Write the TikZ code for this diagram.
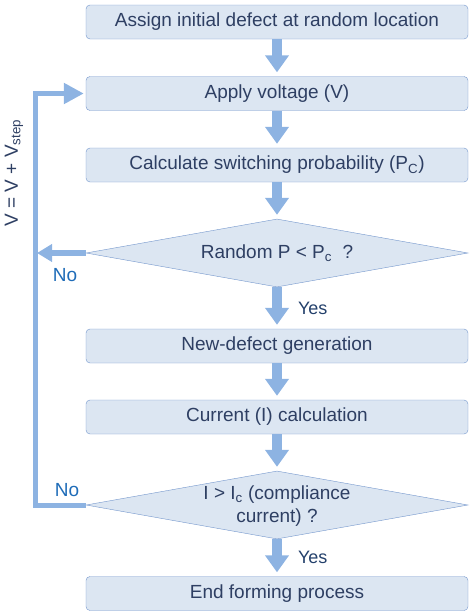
\documentclass[tikz,border=0pt]{standalone}
\usepackage{fontspec}
\setmainfont{Liberation Sans}
\usetikzlibrary{arrows.meta}
\usetikzlibrary{shapes.geometric}
\definecolor{flowblue}{HTML}{8DB3E2}
\definecolor{boxfill}{HTML}{DCE6F2}
\definecolor{boxline}{HTML}{7396CC}
\definecolor{boxtext}{HTML}{2E3F63}
\definecolor{nocol}{HTML}{1F6CB8}
\definecolor{yescol}{HTML}{23406B}
\newcommand\boxfont[0]{\fontsize{19}{23}\selectfont}

\begin{document}
\begin{tikzpicture}[x=1pt,y=-1pt,
  procbox/.style={draw=boxline,fill=boxfill,rounded corners=4pt,minimum width=382pt,minimum height=34pt,inner sep=0pt,text=boxtext,font=\boxfont},
  decision/.style={diamond,draw=boxline,fill=boxfill,minimum width=382pt,minimum height=68pt,inner sep=0pt},
  dtext/.style={text=boxtext,font=\boxfont,align=center,inner sep=0pt},
  flow/.style={flowblue,line width=10pt,shorten >=4pt,-{Triangle[width=23pt,length=17pt]}},
  yeslabel/.style={text=yescol,font=\fontsize{18}{22}\selectfont,anchor=west,inner sep=0pt,xshift=16pt}
]
\useasboundingbox (0,0) rectangle (474,616);

\node[procbox] (assign) at (277,22) {Assign initial defect at random location};
\node[procbox] (apply) at (277,93.5) {Apply voltage (V)};
\node[procbox] (calc) at (277,165) {Calculate switching probability (P\textsubscript{C})};
\node[decision] (rand) at (277,253) {};
\node[dtext] at (rand) {Random P < P\textsubscript{c}\ \ ?};
\node[procbox] (newdef) at (277,346) {New-defect generation};
\node[procbox] (curr) at (277,417) {Current (I) calculation};
\node[decision] (comp) at (277,505) {};
\node[dtext] at (277,506) {I > I\textsubscript{c} (compliance\\current) ?};
\node[procbox] (stop) at (277,593.5) {End forming process};

\draw[flow] (assign)--(apply);
\draw[flow] (apply)--(calc);
\draw[flow] (calc)--(rand);
\draw[flow] (rand)--(newdef) node[yeslabel, midway]{Yes};
\draw[flow] (newdef)--(curr);
\draw[flow] (curr)--(comp);
\draw[flow] (comp)--(stop) node[yeslabel, midway]{Yes};

\coordinate (loopbot) at (35,505);
\coordinate (looptop) at (35,93.5);
\coordinate (loopin) at (37,253);

\draw[flowblue,line width=6pt,-{Triangle[width=17pt,length=15pt]}] (rand.west)--(loopin);
\draw[flowblue,line width=5pt,shorten >=2pt,-{Triangle[width=20pt,length=20pt]}] (comp.west)--(loopbot)--(looptop)--(apply.west);

\node[text=nocol,font=\boxfont,inner sep=0pt] (no1) at (65,275) {No};
\node[text=nocol,font=\boxfont,inner sep=0pt] (no2) at (67,490) {No};
\node[text=boxtext,font=\boxfont,rotate=90,inner sep=0pt] (vstep) at (14,173) {V = V + V\textsubscript{step}};

\end{tikzpicture}
\end{document}
